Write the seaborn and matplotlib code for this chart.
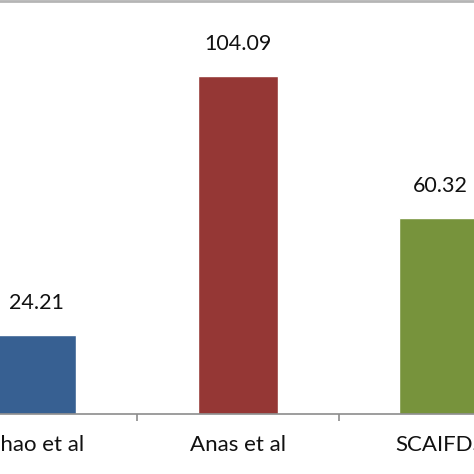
import pandas as pd
import matplotlib
matplotlib.use("Agg")
import matplotlib.pyplot as plt
import seaborn as sns


# ======================
# DATA
# ======================

methods = ["Zhao et al", "Anas et al", "SCAIFDS"]
values = [24.21, 104.09, 60.32]
colors = ["#376092", "#953735", "#77933C"]

df = pd.DataFrame({"method": methods, "value": values})


# ======================
# CONFIG
# ======================

sns.set_theme(style="white")
plt.rcParams["font.family"] = ["Lato", "DejaVu Sans"]

GRAY = "#8c8c8c"
TEXT = "#111111"


# ======================
# CHART
# ======================

fig = plt.figure(figsize=(4.74, 4.74), dpi=100)

# axes wider than the figure: the picture is a crop of a bigger chart
ax = fig.add_axes([-0.137, 0.1266, 1.278, 0.871])

sns.barplot(
    data=df,
    x="method",
    y="value",
    hue="method",
    palette=colors,
    width=0.4,
    legend=False,
    saturation=1,
    ax=ax
)

ax.set_xlim(-0.5, 2.5)
ax.set_ylim(0, 127.2)

for i, v in enumerate(values):
    ax.annotate(
        f"{v:.2f}",
        xy=(i, v),
        xytext=(0, 23),
        textcoords="offset points",
        ha="center",
        va="center",
        fontsize=15.5,
        color=TEXT
    )

ax.set_xlabel("")
ax.set_ylabel("")
ax.set_yticks([])

ax.tick_params(axis="x", which="major", length=0, pad=15,
               labelsize=16, labelcolor=TEXT)
ax.set_xticks([0.5, 1.5], minor=True)
ax.tick_params(axis="x", which="minor", length=5, width=1.2,
               color=GRAY, direction="out", bottom=True)

for side in ["left", "right"]:
    ax.spines[side].set_visible(False)
ax.spines["bottom"].set_color(GRAY)
ax.spines["bottom"].set_linewidth(1.2)
ax.spines["top"].set_color("#b5b5b5")
ax.spines["top"].set_linewidth(2)

fig.savefig("out.png", dpi=100)
plt.close(fig)
